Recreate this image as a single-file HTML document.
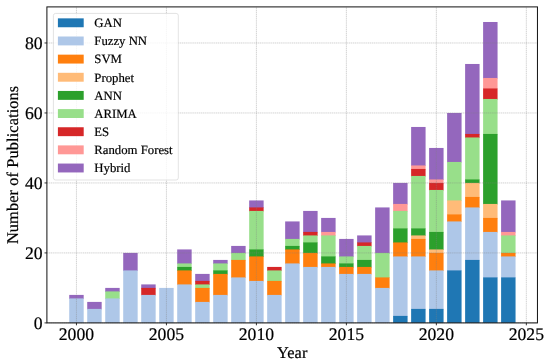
<!DOCTYPE html>
<html lang="en"><head><meta charset="utf-8"><title>Number of Publications per Year</title>
<style>html,body{margin:0;padding:0;background:#fff}svg{display:block}text{font-family:"Liberation Serif","Times New Roman",serif;fill:#000;stroke:#000;stroke-width:0.2px;text-rendering:geometricPrecision}</style></head><body>
<svg width="550" height="363" viewBox="0 0 550 363">
<rect width="550" height="363" fill="#fff"/>
<g>
<rect x="69.23" y="294.91" width="14.45" height="4.1" fill="#9467bd"/>
<rect x="69.23" y="298.41" width="14.45" height="24.49" fill="#aec7e8"/>
<rect x="87.22" y="301.91" width="14.45" height="7.6" fill="#9467bd"/>
<rect x="87.22" y="308.9" width="14.45" height="14" fill="#aec7e8"/>
<rect x="105.22" y="287.91" width="14.45" height="4.1" fill="#9467bd"/>
<rect x="105.22" y="291.41" width="14.45" height="7.6" fill="#98df8a"/>
<rect x="105.22" y="298.41" width="14.45" height="24.49" fill="#aec7e8"/>
<rect x="123.21" y="252.92" width="14.45" height="18.1" fill="#9467bd"/>
<rect x="123.21" y="270.41" width="14.45" height="52.49" fill="#aec7e8"/>
<rect x="141.21" y="284.41" width="14.45" height="4.1" fill="#9467bd"/>
<rect x="141.21" y="287.91" width="14.45" height="7.6" fill="#d62728"/>
<rect x="141.21" y="294.91" width="14.45" height="27.99" fill="#aec7e8"/>
<rect x="159.2" y="287.91" width="14.45" height="34.99" fill="#aec7e8"/>
<rect x="177.2" y="249.42" width="14.45" height="14.6" fill="#9467bd"/>
<rect x="177.2" y="263.42" width="14.45" height="4.1" fill="#98df8a"/>
<rect x="177.2" y="266.92" width="14.45" height="4.1" fill="#2ca02c"/>
<rect x="177.2" y="270.41" width="14.45" height="14.6" fill="#ff7f0e"/>
<rect x="177.2" y="284.41" width="14.45" height="38.49" fill="#aec7e8"/>
<rect x="195.19" y="273.91" width="14.45" height="7.6" fill="#9467bd"/>
<rect x="195.19" y="280.91" width="14.45" height="4.1" fill="#d62728"/>
<rect x="195.19" y="284.41" width="14.45" height="4.1" fill="#98df8a"/>
<rect x="195.19" y="287.91" width="14.45" height="14.6" fill="#ff7f0e"/>
<rect x="195.19" y="301.91" width="14.45" height="20.99" fill="#aec7e8"/>
<rect x="213.19" y="259.92" width="14.45" height="4.1" fill="#9467bd"/>
<rect x="213.19" y="263.42" width="14.45" height="7.6" fill="#98df8a"/>
<rect x="213.19" y="270.41" width="14.45" height="4.1" fill="#2ca02c"/>
<rect x="213.19" y="273.91" width="14.45" height="21.59" fill="#ff7f0e"/>
<rect x="213.19" y="294.91" width="14.45" height="27.99" fill="#aec7e8"/>
<rect x="231.18" y="245.92" width="14.45" height="7.6" fill="#9467bd"/>
<rect x="231.18" y="252.92" width="14.45" height="7.6" fill="#98df8a"/>
<rect x="231.18" y="259.92" width="14.45" height="18.09" fill="#ff7f0e"/>
<rect x="231.18" y="277.41" width="14.45" height="45.49" fill="#aec7e8"/>
<rect x="249.18" y="200.43" width="14.45" height="7.6" fill="#9467bd"/>
<rect x="249.18" y="207.43" width="14.45" height="4.1" fill="#d62728"/>
<rect x="249.18" y="210.93" width="14.45" height="39.09" fill="#98df8a"/>
<rect x="249.18" y="249.42" width="14.45" height="7.6" fill="#2ca02c"/>
<rect x="249.18" y="256.42" width="14.45" height="25.09" fill="#ff7f0e"/>
<rect x="249.18" y="280.91" width="14.45" height="41.99" fill="#aec7e8"/>
<rect x="267.17" y="266.92" width="14.45" height="4.1" fill="#d62728"/>
<rect x="267.17" y="270.41" width="14.45" height="11.1" fill="#98df8a"/>
<rect x="267.17" y="280.91" width="14.45" height="14.6" fill="#ff7f0e"/>
<rect x="267.17" y="294.91" width="14.45" height="27.99" fill="#aec7e8"/>
<rect x="285.16" y="221.43" width="14.45" height="18.09" fill="#9467bd"/>
<rect x="285.16" y="238.92" width="14.45" height="7.6" fill="#98df8a"/>
<rect x="285.16" y="245.92" width="14.45" height="4.1" fill="#2ca02c"/>
<rect x="285.16" y="249.42" width="14.45" height="14.6" fill="#ff7f0e"/>
<rect x="285.16" y="263.42" width="14.45" height="59.48" fill="#aec7e8"/>
<rect x="303.16" y="210.93" width="14.45" height="21.59" fill="#9467bd"/>
<rect x="303.16" y="231.93" width="14.45" height="4.1" fill="#d62728"/>
<rect x="303.16" y="235.42" width="14.45" height="7.6" fill="#98df8a"/>
<rect x="303.16" y="242.42" width="14.45" height="11.1" fill="#2ca02c"/>
<rect x="303.16" y="252.92" width="14.45" height="14.6" fill="#ff7f0e"/>
<rect x="303.16" y="266.92" width="14.45" height="55.98" fill="#aec7e8"/>
<rect x="321.15" y="217.93" width="14.45" height="14.6" fill="#9467bd"/>
<rect x="321.15" y="231.93" width="14.45" height="4.1" fill="#ff9896"/>
<rect x="321.15" y="235.42" width="14.45" height="21.59" fill="#98df8a"/>
<rect x="321.15" y="256.42" width="14.45" height="7.6" fill="#2ca02c"/>
<rect x="321.15" y="263.42" width="14.45" height="4.1" fill="#ff7f0e"/>
<rect x="321.15" y="266.92" width="14.45" height="55.98" fill="#aec7e8"/>
<rect x="339.15" y="238.92" width="14.45" height="18.1" fill="#9467bd"/>
<rect x="339.15" y="256.42" width="14.45" height="7.6" fill="#98df8a"/>
<rect x="339.15" y="263.42" width="14.45" height="4.1" fill="#2ca02c"/>
<rect x="339.15" y="266.92" width="14.45" height="7.6" fill="#ff7f0e"/>
<rect x="339.15" y="273.91" width="14.45" height="48.99" fill="#aec7e8"/>
<rect x="357.14" y="235.42" width="14.45" height="7.6" fill="#9467bd"/>
<rect x="357.14" y="242.42" width="14.45" height="4.1" fill="#d62728"/>
<rect x="357.14" y="245.92" width="14.45" height="14.6" fill="#98df8a"/>
<rect x="357.14" y="259.92" width="14.45" height="7.6" fill="#2ca02c"/>
<rect x="357.14" y="266.92" width="14.45" height="7.6" fill="#ff7f0e"/>
<rect x="357.14" y="273.91" width="14.45" height="48.99" fill="#aec7e8"/>
<rect x="375.14" y="207.43" width="14.45" height="46.09" fill="#9467bd"/>
<rect x="375.14" y="252.92" width="14.45" height="25.09" fill="#98df8a"/>
<rect x="375.14" y="277.41" width="14.45" height="11.1" fill="#ff7f0e"/>
<rect x="375.14" y="287.91" width="14.45" height="34.99" fill="#aec7e8"/>
<rect x="393.13" y="182.94" width="14.45" height="21.59" fill="#9467bd"/>
<rect x="393.13" y="203.93" width="14.45" height="7.6" fill="#ff9896"/>
<rect x="393.13" y="210.93" width="14.45" height="18.09" fill="#98df8a"/>
<rect x="393.13" y="228.43" width="14.45" height="14.6" fill="#2ca02c"/>
<rect x="393.13" y="242.42" width="14.45" height="14.6" fill="#ff7f0e"/>
<rect x="393.13" y="256.42" width="14.45" height="60.08" fill="#aec7e8"/>
<rect x="393.13" y="315.9" width="14.45" height="7" fill="#1f77b4"/>
<rect x="411.13" y="126.96" width="14.45" height="39.09" fill="#9467bd"/>
<rect x="411.13" y="165.44" width="14.45" height="4.1" fill="#ff9896"/>
<rect x="411.13" y="168.94" width="14.45" height="7.6" fill="#d62728"/>
<rect x="411.13" y="175.94" width="14.45" height="53.08" fill="#98df8a"/>
<rect x="411.13" y="228.43" width="14.45" height="7.6" fill="#2ca02c"/>
<rect x="411.13" y="235.42" width="14.45" height="4.1" fill="#ffbb78"/>
<rect x="411.13" y="238.92" width="14.45" height="18.1" fill="#ff7f0e"/>
<rect x="411.13" y="256.42" width="14.45" height="53.09" fill="#aec7e8"/>
<rect x="411.13" y="308.9" width="14.45" height="14" fill="#1f77b4"/>
<rect x="429.12" y="147.95" width="14.45" height="32.09" fill="#9467bd"/>
<rect x="429.12" y="179.44" width="14.45" height="4.1" fill="#ff9896"/>
<rect x="429.12" y="182.94" width="14.45" height="7.6" fill="#d62728"/>
<rect x="429.12" y="189.94" width="14.45" height="42.59" fill="#98df8a"/>
<rect x="429.12" y="231.93" width="14.45" height="18.09" fill="#2ca02c"/>
<rect x="429.12" y="249.42" width="14.45" height="4.1" fill="#ffbb78"/>
<rect x="429.12" y="252.92" width="14.45" height="18.1" fill="#ff7f0e"/>
<rect x="429.12" y="270.41" width="14.45" height="39.09" fill="#aec7e8"/>
<rect x="429.12" y="308.9" width="14.45" height="14" fill="#1f77b4"/>
<rect x="447.12" y="112.96" width="14.45" height="49.59" fill="#9467bd"/>
<rect x="447.12" y="161.95" width="14.45" height="39.09" fill="#98df8a"/>
<rect x="447.12" y="200.43" width="14.45" height="14.6" fill="#ffbb78"/>
<rect x="447.12" y="214.43" width="14.45" height="7.6" fill="#ff7f0e"/>
<rect x="447.12" y="221.43" width="14.45" height="49.59" fill="#aec7e8"/>
<rect x="447.12" y="270.41" width="14.45" height="52.49" fill="#1f77b4"/>
<rect x="465.12" y="63.97" width="14.45" height="70.58" fill="#9467bd"/>
<rect x="465.12" y="133.95" width="14.45" height="4.1" fill="#d62728"/>
<rect x="465.12" y="137.45" width="14.45" height="42.59" fill="#98df8a"/>
<rect x="465.12" y="179.44" width="14.45" height="4.1" fill="#2ca02c"/>
<rect x="465.12" y="182.94" width="14.45" height="14.6" fill="#ffbb78"/>
<rect x="465.12" y="196.94" width="14.45" height="11.1" fill="#ff7f0e"/>
<rect x="465.12" y="207.43" width="14.45" height="53.09" fill="#aec7e8"/>
<rect x="465.12" y="259.92" width="14.45" height="62.98" fill="#1f77b4"/>
<rect x="483.11" y="21.99" width="14.45" height="56.58" fill="#9467bd"/>
<rect x="483.11" y="77.97" width="14.45" height="11.1" fill="#ff9896"/>
<rect x="483.11" y="88.47" width="14.45" height="11.1" fill="#d62728"/>
<rect x="483.11" y="98.96" width="14.45" height="35.59" fill="#98df8a"/>
<rect x="483.11" y="133.95" width="14.45" height="70.58" fill="#2ca02c"/>
<rect x="483.11" y="203.93" width="14.45" height="14.6" fill="#ffbb78"/>
<rect x="483.11" y="217.93" width="14.45" height="14.6" fill="#ff7f0e"/>
<rect x="483.11" y="231.93" width="14.45" height="46.09" fill="#aec7e8"/>
<rect x="483.11" y="277.41" width="14.45" height="45.49" fill="#1f77b4"/>
<rect x="501.1" y="200.43" width="14.45" height="32.09" fill="#9467bd"/>
<rect x="501.1" y="231.93" width="14.45" height="4.1" fill="#ff9896"/>
<rect x="501.1" y="235.42" width="14.45" height="18.09" fill="#98df8a"/>
<rect x="501.1" y="252.92" width="14.45" height="4.1" fill="#ff7f0e"/>
<rect x="501.1" y="256.42" width="14.45" height="21.59" fill="#aec7e8"/>
<rect x="501.1" y="277.41" width="14.45" height="45.49" fill="#1f77b4"/>
</g>
<g stroke="#808080" stroke-opacity="0.6" stroke-width="0.6" stroke-dasharray="1.3 0.6" fill="none">
<line x1="76.45" y1="322.9" x2="76.45" y2="6.9"/>
<line x1="166.43" y1="322.9" x2="166.43" y2="6.9"/>
<line x1="256.4" y1="322.9" x2="256.4" y2="6.9"/>
<line x1="346.38" y1="322.9" x2="346.38" y2="6.9"/>
<line x1="436.35" y1="322.9" x2="436.35" y2="6.9"/>
<line x1="526.33" y1="322.9" x2="526.33" y2="6.9"/>
<line x1="46.9" y1="322.9" x2="537.45" y2="322.9"/>
<line x1="46.9" y1="252.92" x2="537.45" y2="252.92"/>
<line x1="46.9" y1="182.94" x2="537.45" y2="182.94"/>
<line x1="46.9" y1="112.96" x2="537.45" y2="112.96"/>
<line x1="46.9" y1="42.98" x2="537.45" y2="42.98"/>
</g>
<g stroke="#000" stroke-width="0.8">
<line x1="76.45" y1="322.9" x2="76.45" y2="325.3"/>
<line x1="166.43" y1="322.9" x2="166.43" y2="325.3"/>
<line x1="256.4" y1="322.9" x2="256.4" y2="325.3"/>
<line x1="346.38" y1="322.9" x2="346.38" y2="325.3"/>
<line x1="436.35" y1="322.9" x2="436.35" y2="325.3"/>
<line x1="526.33" y1="322.9" x2="526.33" y2="325.3"/>
<line x1="46.9" y1="322.9" x2="44.5" y2="322.9"/>
<line x1="46.9" y1="252.92" x2="44.5" y2="252.92"/>
<line x1="46.9" y1="182.94" x2="44.5" y2="182.94"/>
<line x1="46.9" y1="112.96" x2="44.5" y2="112.96"/>
<line x1="46.9" y1="42.98" x2="44.5" y2="42.98"/>
</g>
<rect x="46.9" y="6.9" width="490.55" height="316" fill="none" stroke="#111" stroke-width="1.0"/>
<g font-size="17.65">
<text x="76.45" y="340.2" text-anchor="middle">2000</text>
<text x="166.43" y="340.2" text-anchor="middle">2005</text>
<text x="256.4" y="340.2" text-anchor="middle">2010</text>
<text x="346.38" y="340.2" text-anchor="middle">2015</text>
<text x="436.35" y="340.2" text-anchor="middle">2020</text>
<text x="526.33" y="340.2" text-anchor="middle">2025</text>
<text x="42.6" y="329.4" text-anchor="end">0</text>
<text x="42.6" y="259.42" text-anchor="end">20</text>
<text x="42.6" y="189.44" text-anchor="end">40</text>
<text x="42.6" y="119.46" text-anchor="end">60</text>
<text x="42.6" y="49.48" text-anchor="end">80</text>
</g>
<text x="292.18" y="357.9" font-size="16.35" letter-spacing="0.12" text-anchor="middle">Year</text>
<text transform="translate(17.8 164.9) rotate(-90)" font-size="16.35" letter-spacing="0.1" text-anchor="middle">Number of Publications</text>
<rect x="53.4" y="13.4" width="124.9" height="166.6" rx="2.2" ry="2.2" fill="#fff" fill-opacity="0.8" stroke="#ccc" stroke-opacity="0.8" stroke-width="0.7"/>
<g font-size="12.75">
<rect x="57.9" y="18.35" width="25.8" height="8.9" fill="#1f77b4"/>
<text x="94.3" y="27.1">GAN</text>
<rect x="57.9" y="36.5" width="25.8" height="8.9" fill="#aec7e8"/>
<text x="94.3" y="45.25">Fuzzy NN</text>
<rect x="57.9" y="54.65" width="25.8" height="8.9" fill="#ff7f0e"/>
<text x="94.3" y="63.4">SVM</text>
<rect x="57.9" y="72.8" width="25.8" height="8.9" fill="#ffbb78"/>
<text x="94.3" y="81.55">Prophet</text>
<rect x="57.9" y="90.95" width="25.8" height="8.9" fill="#2ca02c"/>
<text x="94.3" y="99.7">ANN</text>
<rect x="57.9" y="109.1" width="25.8" height="8.9" fill="#98df8a"/>
<text x="94.3" y="117.85">ARIMA</text>
<rect x="57.9" y="127.25" width="25.8" height="8.9" fill="#d62728"/>
<text x="94.3" y="136">ES</text>
<rect x="57.9" y="145.4" width="25.8" height="8.9" fill="#ff9896"/>
<text x="94.3" y="154.15">Random Forest</text>
<rect x="57.9" y="163.55" width="25.8" height="8.9" fill="#9467bd"/>
<text x="94.3" y="172.3">Hybrid</text>
</g>
</svg></body></html>
